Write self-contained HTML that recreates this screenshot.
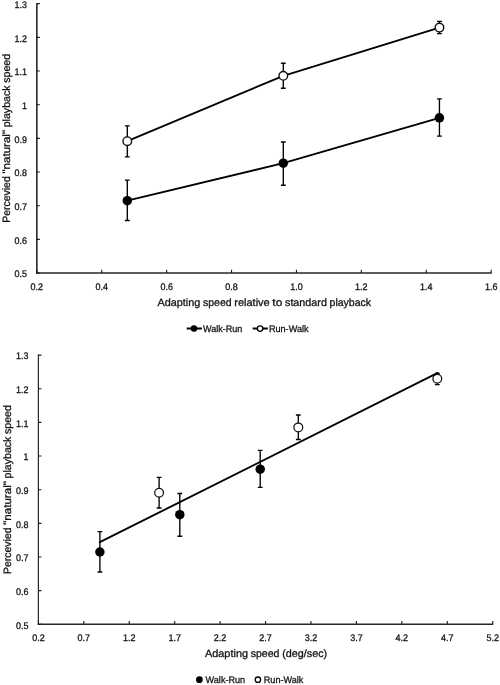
<!DOCTYPE html>
<html lang="en"><head><meta charset="utf-8"><title>Perceived natural playback speed</title>
<style>html,body{margin:0;padding:0;background:#fff}body{width:500px;height:685px;overflow:hidden}svg{display:block}text{font-family:"Liberation Sans",Arial,sans-serif;fill:#111;stroke:#111;stroke-width:0.28px;text-rendering:geometricPrecision}</style>
</head><body>
<svg width="500" height="685" viewBox="0 0 500 685">
<rect width="500" height="685" fill="#fff"/>
<path d="M36.85,3.15 V273.85" stroke="#262626" stroke-width="1.6" fill="none"/>
<path d="M36.05,273.05 H491.65" stroke="#262626" stroke-width="1.6" fill="none"/>
<path d="M36.85,273.05 v-3.3 M101.75,273.05 v-3.3 M166.65,273.05 v-3.3 M231.55,273.05 v-3.3 M296.45,273.05 v-3.3 M361.35,273.05 v-3.3 M426.25,273.05 v-3.3 M491.15,273.05 v-3.3 M36.85,3.65 h3.0 M36.85,37.33 h3.0 M36.85,71.00 h3.0 M36.85,104.68 h3.0 M36.85,138.35 h3.0 M36.85,172.02 h3.0 M36.85,205.70 h3.0 M36.85,239.38 h3.0 M36.85,273.05 h3.0 " stroke="#1a1a1a" stroke-width="1.1" fill="none"/>
<text x="27.00" y="7.95" font-size="9.6" text-anchor="end" textLength="12.5" lengthAdjust="spacingAndGlyphs">1.3</text>
<text x="27.00" y="41.63" font-size="9.6" text-anchor="end" textLength="12.5" lengthAdjust="spacingAndGlyphs">1.2</text>
<text x="27.00" y="75.30" font-size="9.6" text-anchor="end" textLength="12.5" lengthAdjust="spacingAndGlyphs">1.1</text>
<text x="27.00" y="108.98" font-size="9.6" text-anchor="end" textLength="5.0" lengthAdjust="spacingAndGlyphs">1</text>
<text x="27.00" y="142.65" font-size="9.6" text-anchor="end" textLength="12.5" lengthAdjust="spacingAndGlyphs">0.9</text>
<text x="27.00" y="176.32" font-size="9.6" text-anchor="end" textLength="12.5" lengthAdjust="spacingAndGlyphs">0.8</text>
<text x="27.00" y="210.00" font-size="9.6" text-anchor="end" textLength="12.5" lengthAdjust="spacingAndGlyphs">0.7</text>
<text x="27.00" y="243.68" font-size="9.6" text-anchor="end" textLength="12.5" lengthAdjust="spacingAndGlyphs">0.6</text>
<text x="27.00" y="277.35" font-size="9.6" text-anchor="end" textLength="12.5" lengthAdjust="spacingAndGlyphs">0.5</text>
<text x="36.85" y="290.00" font-size="9.6" text-anchor="middle" textLength="12.5" lengthAdjust="spacingAndGlyphs">0.2</text>
<text x="101.75" y="290.00" font-size="9.6" text-anchor="middle" textLength="12.5" lengthAdjust="spacingAndGlyphs">0.4</text>
<text x="166.65" y="290.00" font-size="9.6" text-anchor="middle" textLength="12.5" lengthAdjust="spacingAndGlyphs">0.6</text>
<text x="231.55" y="290.00" font-size="9.6" text-anchor="middle" textLength="12.5" lengthAdjust="spacingAndGlyphs">0.8</text>
<text x="296.45" y="290.00" font-size="9.6" text-anchor="middle" textLength="12.5" lengthAdjust="spacingAndGlyphs">1.0</text>
<text x="361.35" y="290.00" font-size="9.6" text-anchor="middle" textLength="12.5" lengthAdjust="spacingAndGlyphs">1.2</text>
<text x="426.25" y="290.00" font-size="9.6" text-anchor="middle" textLength="12.5" lengthAdjust="spacingAndGlyphs">1.4</text>
<text x="491.15" y="290.00" font-size="9.6" text-anchor="middle" textLength="12.5" lengthAdjust="spacingAndGlyphs">1.6</text>
<polyline points="127.30,141.20 283.30,75.80 439.45,27.60" fill="none" stroke="#000" stroke-width="1.85" stroke-linejoin="round"/>
<polyline points="127.30,200.70 283.30,163.20 439.45,117.80" fill="none" stroke="#000" stroke-width="1.85" stroke-linejoin="round"/>
<path d="M127.30,125.80 V156.80 M124.90,125.80 h4.8 M124.90,156.80 h4.8" stroke="#000" stroke-width="1.35" fill="none"/>
<circle cx="127.30" cy="141.20" r="4.30" fill="#fff" stroke="#111" stroke-width="1.4"/>
<path d="M283.30,63.20 V88.20 M280.90,63.20 h4.8 M280.90,88.20 h4.8" stroke="#000" stroke-width="1.35" fill="none"/>
<circle cx="283.30" cy="75.80" r="4.30" fill="#fff" stroke="#111" stroke-width="1.4"/>
<path d="M439.45,21.40 V33.60 M437.05,21.40 h4.8 M437.05,33.60 h4.8" stroke="#000" stroke-width="1.35" fill="none"/>
<circle cx="439.45" cy="27.60" r="4.30" fill="#fff" stroke="#111" stroke-width="1.4"/>
<path d="M127.30,180.10 V220.50 M124.90,180.10 h4.8 M124.90,220.50 h4.8" stroke="#000" stroke-width="1.35" fill="none"/>
<circle cx="127.30" cy="200.70" r="4.75" fill="#000"/>
<path d="M283.30,142.00 V185.20 M280.90,142.00 h4.8 M280.90,185.20 h4.8" stroke="#000" stroke-width="1.35" fill="none"/>
<circle cx="283.30" cy="163.20" r="4.75" fill="#000"/>
<path d="M439.45,98.80 V136.10 M437.05,98.80 h4.8 M437.05,136.10 h4.8" stroke="#000" stroke-width="1.35" fill="none"/>
<circle cx="439.45" cy="117.80" r="4.75" fill="#000"/>
<text transform="translate(9.60,222.80) rotate(-90)" font-size="10.68" textLength="46.58" lengthAdjust="spacingAndGlyphs">Percevied</text>
<text transform="translate(9.60,173.55) rotate(-90)" font-size="10.68" textLength="43.59" lengthAdjust="spacingAndGlyphs">&quot;natural&quot;</text>
<text transform="translate(9.60,127.29) rotate(-90)" font-size="10.68" textLength="41.89" lengthAdjust="spacingAndGlyphs">playback</text>
<text transform="translate(9.60,82.74) rotate(-90)" font-size="10.68" textLength="28.76" lengthAdjust="spacingAndGlyphs">speed</text>
<text x="157.50" y="305.90" font-size="10.68" textLength="42.86" lengthAdjust="spacingAndGlyphs">Adapting</text>
<text x="203.01" y="305.90" font-size="10.68" textLength="28.56" lengthAdjust="spacingAndGlyphs">speed</text>
<text x="234.22" y="305.90" font-size="10.68" textLength="35.50" lengthAdjust="spacingAndGlyphs">relative</text>
<text x="272.37" y="305.90" font-size="10.68" textLength="9.99" lengthAdjust="spacingAndGlyphs">to</text>
<text x="285.01" y="305.90" font-size="10.68" textLength="41.86" lengthAdjust="spacingAndGlyphs">standard</text>
<text x="329.52" y="305.90" font-size="10.68" textLength="41.60" lengthAdjust="spacingAndGlyphs">playback</text>
<path d="M186.7,328.6 H201.9 M252.7,328.6 H267.8" stroke="#000" stroke-width="2"/>
<circle cx="194.0" cy="328.6" r="3.25" fill="#000"/>
<circle cx="260.1" cy="328.6" r="2.75" fill="#fff" stroke="#000" stroke-width="1.3"/>
<text x="203.1" y="332.1" font-size="9.5" textLength="39.3" lengthAdjust="spacingAndGlyphs">Walk-Run</text>
<text x="268.9" y="332.1" font-size="9.5" textLength="39.7" lengthAdjust="spacingAndGlyphs">Run-Walk</text>
<path d="M38.40,354.60 V625.05" stroke="#262626" stroke-width="1.2" fill="none"/>
<path d="M37.80,624.30 H493.20" stroke="#262626" stroke-width="1.5" fill="none"/>
<path d="M38.40,624.30 v-3.3 M83.83,624.30 v-3.3 M129.26,624.30 v-3.3 M174.69,624.30 v-3.3 M220.12,624.30 v-3.3 M265.55,624.30 v-3.3 M310.98,624.30 v-3.3 M356.41,624.30 v-3.3 M401.84,624.30 v-3.3 M447.27,624.30 v-3.3 M492.70,624.30 v-3.3 M38.40,355.10 h3.0 M38.40,388.75 h3.0 M38.40,422.40 h3.0 M38.40,456.05 h3.0 M38.40,489.70 h3.0 M38.40,523.35 h3.0 M38.40,557.00 h3.0 M38.40,590.65 h3.0 M38.40,624.30 h3.0 " stroke="#1a1a1a" stroke-width="1.1" fill="none"/>
<text x="28.50" y="359.40" font-size="9.6" text-anchor="end" textLength="12.5" lengthAdjust="spacingAndGlyphs">1.3</text>
<text x="28.50" y="393.05" font-size="9.6" text-anchor="end" textLength="12.5" lengthAdjust="spacingAndGlyphs">1.2</text>
<text x="28.50" y="426.70" font-size="9.6" text-anchor="end" textLength="12.5" lengthAdjust="spacingAndGlyphs">1.1</text>
<text x="28.50" y="460.35" font-size="9.6" text-anchor="end" textLength="5.0" lengthAdjust="spacingAndGlyphs">1</text>
<text x="28.50" y="494.00" font-size="9.6" text-anchor="end" textLength="12.5" lengthAdjust="spacingAndGlyphs">0.9</text>
<text x="28.50" y="527.65" font-size="9.6" text-anchor="end" textLength="12.5" lengthAdjust="spacingAndGlyphs">0.8</text>
<text x="28.50" y="561.30" font-size="9.6" text-anchor="end" textLength="12.5" lengthAdjust="spacingAndGlyphs">0.7</text>
<text x="28.50" y="594.95" font-size="9.6" text-anchor="end" textLength="12.5" lengthAdjust="spacingAndGlyphs">0.6</text>
<text x="28.50" y="628.60" font-size="9.6" text-anchor="end" textLength="12.5" lengthAdjust="spacingAndGlyphs">0.5</text>
<text x="38.40" y="641.20" font-size="9.6" text-anchor="middle" textLength="12.5" lengthAdjust="spacingAndGlyphs">0.2</text>
<text x="83.83" y="641.20" font-size="9.6" text-anchor="middle" textLength="12.5" lengthAdjust="spacingAndGlyphs">0.7</text>
<text x="129.26" y="641.20" font-size="9.6" text-anchor="middle" textLength="12.5" lengthAdjust="spacingAndGlyphs">1.2</text>
<text x="174.69" y="641.20" font-size="9.6" text-anchor="middle" textLength="12.5" lengthAdjust="spacingAndGlyphs">1.7</text>
<text x="220.12" y="641.20" font-size="9.6" text-anchor="middle" textLength="12.5" lengthAdjust="spacingAndGlyphs">2.2</text>
<text x="265.55" y="641.20" font-size="9.6" text-anchor="middle" textLength="12.5" lengthAdjust="spacingAndGlyphs">2.7</text>
<text x="310.98" y="641.20" font-size="9.6" text-anchor="middle" textLength="12.5" lengthAdjust="spacingAndGlyphs">3.2</text>
<text x="356.41" y="641.20" font-size="9.6" text-anchor="middle" textLength="12.5" lengthAdjust="spacingAndGlyphs">3.7</text>
<text x="401.84" y="641.20" font-size="9.6" text-anchor="middle" textLength="12.5" lengthAdjust="spacingAndGlyphs">4.2</text>
<text x="447.27" y="641.20" font-size="9.6" text-anchor="middle" textLength="12.5" lengthAdjust="spacingAndGlyphs">4.7</text>
<text x="492.70" y="641.20" font-size="9.6" text-anchor="middle" textLength="12.5" lengthAdjust="spacingAndGlyphs">5.2</text>
<path d="M159.10,477.40 V508.00 M156.70,477.40 h4.8 M156.70,508.00 h4.8" stroke="#000" stroke-width="1.35" fill="none"/>
<circle cx="159.10" cy="492.70" r="4.38" fill="#fff" stroke="#111" stroke-width="1.25"/>
<path d="M298.30,415.00 V439.50 M295.90,415.00 h4.8 M295.90,439.50 h4.8" stroke="#000" stroke-width="1.35" fill="none"/>
<circle cx="298.30" cy="427.40" r="4.38" fill="#fff" stroke="#111" stroke-width="1.25"/>
<path d="M437.30,373.40 V384.60 M434.90,373.40 h4.8 M434.90,384.60 h4.8" stroke="#000" stroke-width="1.35" fill="none"/>
<circle cx="437.30" cy="378.80" r="4.38" fill="#fff" stroke="#111" stroke-width="1.25"/>
<path d="M99.90,531.60 V572.00 M97.50,531.60 h4.8 M97.50,572.00 h4.8" stroke="#000" stroke-width="1.35" fill="none"/>
<circle cx="99.90" cy="552.00" r="4.75" fill="#000"/>
<path d="M179.80,493.50 V536.20 M177.40,493.50 h4.8 M177.40,536.20 h4.8" stroke="#000" stroke-width="1.35" fill="none"/>
<circle cx="179.80" cy="514.70" r="4.75" fill="#000"/>
<path d="M260.20,450.30 V487.40 M257.80,450.30 h4.8 M257.80,487.40 h4.8" stroke="#000" stroke-width="1.35" fill="none"/>
<circle cx="260.20" cy="469.20" r="4.75" fill="#000"/>
<line x1="99.8" y1="542.2" x2="437.7" y2="372.9" stroke="#000" stroke-width="1.9" stroke-linecap="round"/>
<text transform="translate(10.80,574.00) rotate(-90)" font-size="10.68" textLength="46.58" lengthAdjust="spacingAndGlyphs">Percevied</text>
<text transform="translate(10.80,524.75) rotate(-90)" font-size="10.68" textLength="43.59" lengthAdjust="spacingAndGlyphs">&quot;natural&quot;</text>
<text transform="translate(10.80,478.49) rotate(-90)" font-size="10.68" textLength="41.89" lengthAdjust="spacingAndGlyphs">playback</text>
<text transform="translate(10.80,433.94) rotate(-90)" font-size="10.68" textLength="28.76" lengthAdjust="spacingAndGlyphs">speed</text>
<text x="204.90" y="657.10" font-size="10.68" textLength="43.16" lengthAdjust="spacingAndGlyphs">Adapting</text>
<text x="250.72" y="657.10" font-size="10.68" textLength="28.76" lengthAdjust="spacingAndGlyphs">speed</text>
<text x="282.15" y="657.10" font-size="10.68" textLength="45.01" lengthAdjust="spacingAndGlyphs">(deg/sec)</text>
<circle cx="199.4" cy="679.7" r="3.35" fill="#000"/>
<circle cx="257.9" cy="679.7" r="2.7" fill="#fff" stroke="#000" stroke-width="1.3"/>
<text x="205.6" y="683.2" font-size="9.5" textLength="39.5" lengthAdjust="spacingAndGlyphs">Walk-Run</text>
<text x="263.8" y="683.2" font-size="9.5" textLength="39.5" lengthAdjust="spacingAndGlyphs">Run-Walk</text>
</svg></body></html>
